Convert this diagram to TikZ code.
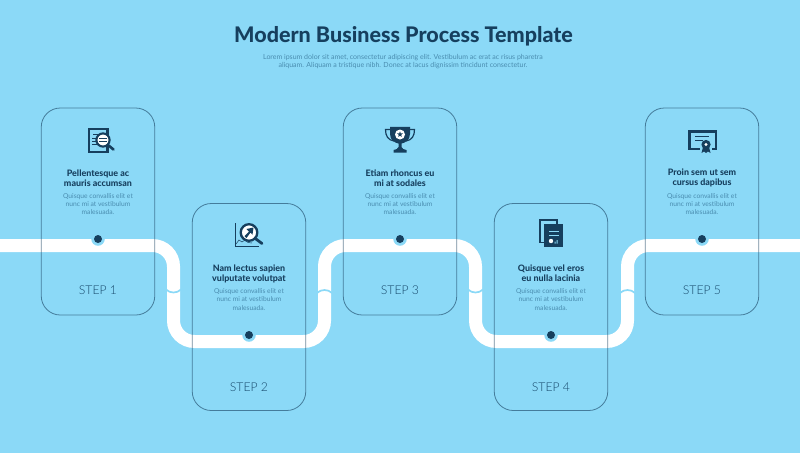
\documentclass[tikz,border=0pt]{standalone}
\usepackage{fontspec}
\setmainfont{Lato}
\usetikzlibrary{shapes.geometric}
\definecolor{bgblue}{HTML}{8BD9F7}
\definecolor{inkblue}{HTML}{163F5E}
\definecolor{bodyblue}{HTML}{4A8DB0}
\definecolor{stepblue}{HTML}{17496C}
\newfontfamily\latolight{Lato Light}
\newfontfamily\latoheavy{Lato Heavy}
\tikzset{
  x=1pt,y=-1pt,
  card/.style={draw=inkblue,draw opacity=.6,line width=.8pt,rounded corners=19pt,minimum width=113.5pt,minimum height=207pt,inner sep=0pt},
  pipe/.style={draw=white,line width=13pt,rounded corners=21pt},
  breakwave/.style={draw=bgblue,line width=1.7pt},
  halo/.style={circle,fill=bgblue,minimum size=13.5pt,inner sep=0pt},
  dot/.style={circle,fill=inkblue,minimum size=8pt,inner sep=0pt},
  headtext/.style={font=\latoheavy\fontsize{8.9}{10}\selectfont,text=inkblue,align=center},
  bodytext/.style={font=\fontsize{6.7}{8.4}\selectfont,text=bodyblue,align=center},
  steptext/.style={font=\latolight\fontsize{12.2}{14}\selectfont,text=stepblue},
  inkline/.style={draw=inkblue,line width=2.1pt},
  thinink/.style={draw=inkblue,line width=.8pt},
}
\begin{document}
\begin{tikzpicture}
\useasboundingbox[fill=bgblue] (0,0) rectangle (800,453);
% pipe way points
\coordinate (p0) at (-10,245.5);
\coordinate (p1) at (173.5,245.5);
\coordinate (p2) at (173.5,341.5);
\coordinate (p3) at (324.5,341.5);
\coordinate (p4) at (324.5,245.5);
\coordinate (p5) at (475.5,245.5);
\coordinate (p6) at (475.5,341.5);
\coordinate (p7) at (627.5,341.5);
\coordinate (p8) at (627.5,245.5);
\coordinate (p9) at (810,245.5);
\draw[pipe] (p0) -- (p1) -- (p2) -- (p3) -- (p4) -- (p5) -- (p6) -- (p7) -- (p8) -- (p9);
% breaks in the pipe
\draw[breakwave] (166,289.5) .. controls (170,293.5) and (177,293.5) .. (181,289.5);
\draw[breakwave] (317,293) .. controls (321,289) and (328,289) .. (332,293);
\draw[breakwave] (468,289.5) .. controls (472,293.5) and (479,293.5) .. (483,289.5);
\draw[breakwave] (620,293) .. controls (624,289) and (631,289) .. (635,293);
% cards
\node[card] (c1) at (98,211.5) {};
\node[card] (c2) at (249,307) {};
\node[card] (c3) at (400,211.5) {};
\node[card] (c4) at (551,307) {};
\node[card] (c5) at (702,211.5) {};
% dots
\foreach \n/\x/\y in {1/98/239,2/249/335,3/400/239,4/551/335,5/702/239}{
  \node[halo] (h\n) at (\x,\y) {};
  \node[dot] (d\n) at (\x,\y) {};
}
% title
\node[font=\latoheavy\fontsize{21.5}{24}\selectfont,text=inkblue] (title) at (403.5,36) {Modern Business Process Template};
\node[font=\fontsize{7}{8.4}\selectfont,text=bodyblue,align=center] (sub) at (403,61.8)
 {Lorem ipsum dolor sit amet, consectetur adipiscing elit. Vestibulum ac erat ac risus pharetra\\aliquam. Aliquam a tristique nibh. Donec at lacus dignissim tincidunt consectetur.};
% card 1 to 5 text
\node[headtext] (t1) at (98,178) {Pellentesque ac\\mauris accumsan};
\node[bodytext] (b1) at (98,204) {Quisque convallis elit et\\nunc mi at vestibulum\\malesuada.};
\node[steptext] (s1) at (98,290.5) {STEP 1};
\node[headtext] (t2) at (249,273.5) {Nam lectus sapien\\vulputate volutpat};
\node[bodytext] (b2) at (249,299.5) {Quisque convallis elit et\\nunc mi at vestibulum\\malesuada.};
\node[steptext] (s2) at (249,387) {STEP 2};
\node[headtext] (t3) at (400,178) {Etiam rhoncus eu\\mi at sodales};
\node[bodytext] (b3) at (400,204) {Quisque convallis elit et\\nunc mi at vestibulum\\malesuada.};
\node[steptext] (s3) at (400,290.5) {STEP 3};
\node[headtext] (t4) at (551,273.5) {Quisque vel eros\\eu nulla lacinia};
\node[bodytext] (b4) at (551,299.5) {Quisque convallis elit et\\nunc mi at vestibulum\\malesuada.};
\node[steptext] (s4) at (551,387) {STEP 4};
\node[headtext] (t5) at (702,178) {Proin sem ut sem\\cursus dapibus};
\node[bodytext] (b5) at (702,204) {Quisque convallis elit et\\nunc mi at vestibulum\\malesuada.};
\node[steptext] (s5) at (702,290.5) {STEP 5};
% icon 1: document and magnifier
\draw[inkline] (89,129) rectangle (107.5,152);
\draw[thinink] (93,134) -- (100,134) (92,138) -- (97,138) (92,141) -- (97,141) (92,144) -- (97,144);
\draw[inkline,line width=2.6pt,line cap=round] (108,145) -- (113.5,149.5);
\draw[inkline,fill=white] (103,140) circle (6.6);
\draw[inkblue,line width=1.1pt] (99,138.3) -- (107,138.3) (99,141.7) -- (107,141.7);
% icon 2: chart and magnifier
\draw[thinink] (235,223) -- (235,246) -- (259,246);
\draw[thinink,line width=.5pt] (236,244) -- (239,240) -- (242,242) -- (245,240) -- (248,242.5) -- (252,243);
\draw[inkline,line width=2.8pt,line cap=round] (256,239) -- (262,243.5);
\draw[inkline,line width=2.3pt,fill=white] (249,232.5) circle (8.3);
\draw[fill=inkblue,draw=none] (244.5,236) -- (249,231.5) -- (246.5,229) -- (253.5,227.5) -- (252.5,234.5) -- (250.5,232.5) -- (246.5,238) -- cycle;
% icon 3: trophy
\draw[thinink,line width=1.2pt] (390,129.5) -- (385.5,129.5) .. controls (385.5,136) and (388,140) .. (394,141);
\draw[thinink,line width=1.2pt] (410,129.5) -- (414.5,129.5) .. controls (414.5,136) and (412,140) .. (406,141);
\draw[fill=inkblue,draw=none] (390,126.8) -- (410,126.8) -- (410,134) .. controls (410,140) and (405,143) .. (401.5,143.5) -- (401.5,147) .. controls (402,149) and (404,149.5) .. (406.5,150) -- (406.5,152.5) -- (393.5,152.5) -- (393.5,150) .. controls (396,149.5) and (398,149) .. (398.5,147) -- (398.5,143.5) .. controls (395,143) and (390,140) .. (390,134) -- cycle;
\fill[white] (400,134.5) circle (5);
\node[star,star points=5,star point ratio=2.3,fill=inkblue,minimum size=6pt,inner sep=0pt] (star) at (400,134.4) {};
% icon 4: documents
\draw[inkline,line width=1.8pt] (540,220) rectangle (557,242.5);
\fill[inkblue] (543.5,224) rectangle (563,247);
\draw[bgblue,line width=.7pt] (549,231) -- (558.5,231) (549,235) -- (558.5,235);
\fill[white] (551,241) circle (2.2);
\fill[bgblue] (554.5,241.5) rectangle (555.5,243.5) (556.5,240) rectangle (557.5,243.5);
% icon 5: certificate
\draw[inkline,line width=2.6pt] (689.3,131.2) rectangle (715.8,148.8);
\draw[thinink] (695,136.5) -- (709,136.5) (695,140) -- (703,140);
\fill[bgblue] (700,141) rectangle (712,152);
\fill[inkblue] (703,147) -- (701.5,153) -- (704,151.5) -- (706,153) -- (708,151.5) -- (710.5,153) -- (709,147) -- cycle;
\fill[inkblue] (706,144.5) circle (4.6);
\fill[white] (706,144.5) circle (1.7);
\end{tikzpicture}
\end{document}
